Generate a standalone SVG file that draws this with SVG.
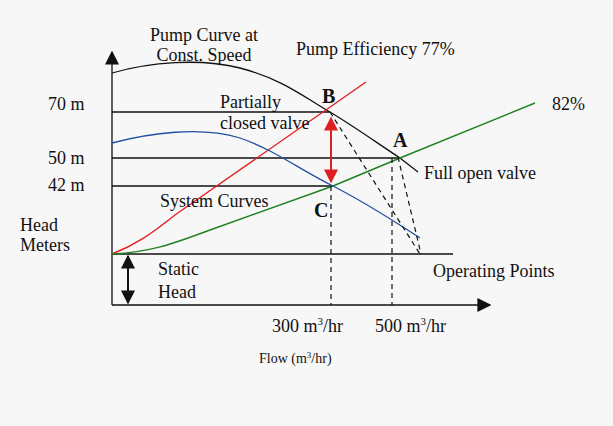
<svg xmlns="http://www.w3.org/2000/svg" width="613" height="426" viewBox="0 0 613 426">
<defs>
<marker id="ahb" viewBox="0 0 10 10" refX="9" refY="5" markerWidth="14" markerHeight="14" markerUnits="userSpaceOnUse" orient="auto-start-reverse"><path d="M0,0 L10,5 L0,10 z" fill="#111"/></marker>
<marker id="ahr" viewBox="0 0 10 10" refX="9" refY="5" markerWidth="14" markerHeight="14" markerUnits="userSpaceOnUse" orient="auto-start-reverse"><path d="M0,0 L10,5 L0,10 z" fill="#e02020"/></marker>
<style>
text{font-family:"Liberation Serif",serif;font-size:18px;fill:#111}
.b{font-weight:bold;font-size:20px}
.l{fill:none;stroke:#111;stroke-width:1.3}
.d{fill:none;stroke:#111;stroke-width:1.2;stroke-dasharray:5,4}
</style>
</defs>
<rect width="613" height="426" fill="#f7f7f7"/>
<g id="connectors">
<line class="l" x1="112" y1="305" x2="112" y2="52" marker-end="url(#ahb)"/>
<line class="l" x1="112" y1="305" x2="490" y2="305" marker-end="url(#ahb)"/>
<line class="l" x1="112" y1="254" x2="453" y2="254"/>
<line class="l" x1="112" y1="112" x2="330" y2="112"/>
<line class="l" x1="112" y1="158" x2="400" y2="158"/>
<line class="l" x1="112" y1="186" x2="333" y2="186"/>
<path class="l" d="M112,73 C150,62 200,58 240,68 C285,80 305,98 330,112 C355,127 380,145 400,158 L418,172"/>
<path fill="none" stroke="#e02020" stroke-width="1.4" d="M112,254 C135,245 150,235 175,215 L366,82"/>
<path fill="none" stroke="#208020" stroke-width="1.4" d="M112,254 C150,252 170,245 210,230 L333,186 L400,158 L535,103"/>
<path fill="none" stroke="#2050a0" stroke-width="1.3" d="M112,143 C150,133 200,126 240,138 C275,150 300,170 333,186 C370,205 395,222 420,238"/>
<line class="d" x1="330" y1="112" x2="420" y2="254"/>
<line class="d" x1="398" y1="157" x2="421" y2="254"/>
<line class="d" x1="331" y1="186" x2="331" y2="305"/>
<line class="d" x1="392" y1="158" x2="392" y2="305"/>
<line stroke="#e02020" stroke-width="2" x1="331" y1="118" x2="331" y2="182" marker-start="url(#ahr)" marker-end="url(#ahr)"/>
<line stroke="#111" stroke-width="2" x1="128" y1="256" x2="128" y2="303" marker-start="url(#ahb)" marker-end="url(#ahb)"/>
</g>
<g id="labels">
<text x="204" y="41" text-anchor="middle">Pump Curve at</text>
<text x="204" y="61" text-anchor="middle">Const. Speed</text>
<text x="296" y="55">Pump Efficiency 77%</text>
<text x="552" y="110">82%</text>
<text x="48" y="110">70 m</text>
<text x="48" y="164">50 m</text>
<text x="48" y="191">42 m</text>
<text x="20" y="231">Head</text>
<text x="20" y="251">Meters</text>
<text class="b" x="322" y="103">B</text>
<text class="b" x="393" y="147">A</text>
<text class="b" x="314" y="217">C</text>
<text x="220" y="108">Partially</text>
<text x="220" y="129">closed valve</text>
<text x="424" y="179">Full open valve</text>
<text x="160" y="207">System Curves</text>
<text x="158" y="275">Static</text>
<text x="158" y="298">Head</text>
<text x="433" y="277">Operating Points</text>
<text x="272" y="332">300 m<tspan font-size="11" dy="-7">3</tspan><tspan dy="7">/hr</tspan></text>
<text x="375" y="332">500 m<tspan font-size="11" dy="-7">3</tspan><tspan dy="7">/hr</tspan></text>
<text x="259" y="363" style="font-size:14px">Flow (m<tspan font-size="9" dy="-5">3</tspan><tspan dy="5">/hr)</tspan></text>
</g>
</svg>
